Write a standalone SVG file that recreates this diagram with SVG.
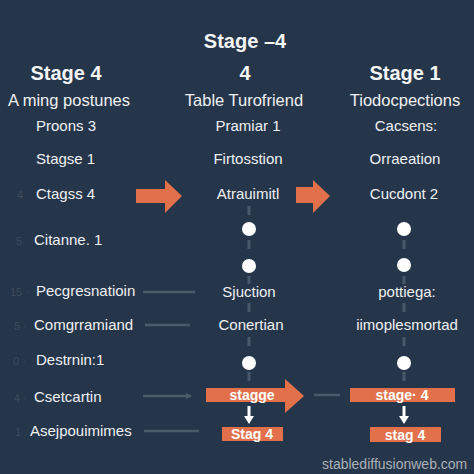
<svg xmlns="http://www.w3.org/2000/svg" width="474" height="474" viewBox="0 0 474 474">
<style>
text{font-family:"Liberation Sans",Arial,sans-serif;fill:#eef0f2}
.h{font-size:20px;font-weight:bold;fill:#f4f5f6}
.sub{font-size:16.5px}
.r{font-size:15px}
.c{text-anchor:middle}
.n{font-size:11px;fill:#3c4c5e}
.b{font-size:14px;font-weight:bold;fill:#fff;text-anchor:middle}
.or{fill:#e2704a}
.dot{fill:#fff}
.ln{stroke:#4b5b6c;stroke-width:2.5;fill:none}
.dash{stroke:#46586a;stroke-width:3;stroke-dasharray:9 14;fill:none}
.wm{font-size:14px;fill:#aab1b8}
</style>
<defs>
<marker id="ah" markerWidth="6" markerHeight="6" refX="5" refY="3" orient="auto" markerUnits="userSpaceOnUse">
<path d="M0,0 L6,3 L0,6 Z" fill="#4b5b6c"/>
</marker>
</defs>
<rect width="474" height="474" fill="#26364a"/>

<g id="title"><text class="h c" x="245" y="48">Stage –4</text></g>

<g id="col1-header">
<text class="h c" x="66" y="80">Stage 4</text>
<text class="sub c" x="69" y="106">A ming postunes</text>
</g>
<g id="col2-header">
<text class="h c" x="245" y="80">4</text>
<text class="sub c" x="244" y="106">Table Turofriend</text>
</g>
<g id="col3-header">
<text class="h c" x="405" y="80">Stage 1</text>
<text class="sub c" x="405" y="106">Tiodocpections</text>
</g>

<g id="connectors">
<path class="dash" d="M249,206 V222"/>
<path class="dash" d="M249,240 V258"/>
<path class="dash" d="M249,276 V284"/>
<path class="dash" d="M249,303 V318"/>
<path class="dash" d="M249,337 V352"/>
<path class="dash" d="M249,372 V384"/>
<path class="dash" d="M404,240 V258"/>
<path class="dash" d="M404,276 V284"/>
<path class="dash" d="M404,303 V318"/>
<path class="dash" d="M404,337 V352"/>
<path class="dash" d="M404,372 V384"/>
<path class="ln" d="M143,292 H195"/>
<path class="ln" d="M145,325 H190"/>
<path class="ln" d="M143,396 H191" marker-end="url(#ah)"/>
<path class="ln" d="M144,431 H199"/>
<path class="ln" d="M314,395 H340"/>
<path class="or" d="M136,189 H165 V180 L182,196 L165,213 V203 H136 Z"/>
<path class="or" d="M296,187 H313 V180 L330,196 L313,213 V203 H296 Z"/>
<path d="M249,406 V418" stroke="#fff" stroke-width="3"/>
<path d="M244,416 L249,424 L254,416 Z" fill="#fff"/>
<path d="M404,406 V418" stroke="#fff" stroke-width="3"/>
<path d="M399,416 L404,424 L409,416 Z" fill="#fff"/>
</g>

<g id="col1-rows">
<text class="r" x="36" y="131">Proons 3</text>
<text class="r" x="36" y="164">Stagse 1</text>
<text class="n" x="17" y="199">4</text>
<text class="r" x="36" y="199">Ctagss 4</text>
<text class="n" x="16" y="245">5</text>
<text class="r" x="34" y="245">Citanne. 1</text>
<text class="n" x="10" y="296">15 ·</text>
<text class="r" x="36" y="296">Pecgresnatioin</text>
<text class="n" x="14" y="330">5 ·</text>
<text class="r" x="34" y="330">Comgrramiand</text>
<text class="n" x="13" y="365">0 ·</text>
<text class="r" x="36" y="365">Destrnin:1</text>
<text class="n" x="14" y="402">4 ·</text>
<text class="r" x="34" y="402">Csetcartin</text>
<text class="n" x="15" y="436">1</text>
<text class="r" x="30" y="436">Asejpouimimes</text>
</g>

<g id="col2-rows">
<text class="r c" x="248" y="131">Pramiar 1</text>
<text class="r c" x="248" y="164">Firtosstion</text>
<text class="r c" x="248" y="199">Atrauimitl</text>
<circle class="dot" cx="249" cy="229" r="7"/>
<circle class="dot" cx="249" cy="266" r="7"/>
<text class="r c" x="249" y="297">Sjuction</text>
<text class="r c" x="251" y="330">Conertian</text>
<circle class="dot" cx="249" cy="363" r="7"/>
</g>
<g id="col2-stage">
<path class="or" d="M206,388 H285 V379 L304,396 L285,413 V402 H206 Z"/>
<text class="b" x="252" y="400">stagge</text>
</g>
<g id="col2-stag4">
<rect class="or" x="222" y="427" width="61" height="14"/>
<text class="b" x="252" y="439">Stag 4</text>
</g>

<g id="col3-rows">
<text class="r c" x="406" y="131">Cacsens:</text>
<text class="r c" x="405" y="164">Orraeation</text>
<text class="r c" x="404" y="199">Cucdont 2</text>
<circle class="dot" cx="404" cy="229" r="7"/>
<circle class="dot" cx="404" cy="265" r="7"/>
<text class="r c" x="407" y="297">pottiega:</text>
<text class="r c" x="407" y="330">iimoplesmortad</text>
<circle class="dot" cx="404" cy="363" r="7"/>
</g>
<g id="col3-stage">
<rect class="or" x="350" y="388" width="105" height="14"/>
<text class="b" x="402" y="400">stage· 4</text>
</g>
<g id="col3-stag4">
<rect class="or" x="370" y="427" width="71" height="15"/>
<text class="b" x="405" y="440">stag 4</text>
</g>

<text class="wm" x="322" y="469">stablediffusionweb.com</text>
</svg>
